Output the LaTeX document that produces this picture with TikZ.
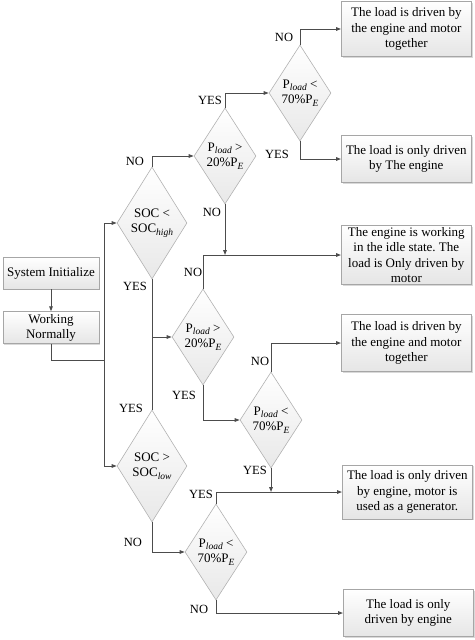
\documentclass[tikz,border=0pt]{standalone}
\usepackage{fontspec}
\setmainfont{Liberation Serif}
\usepackage{tikz}
\usetikzlibrary{arrows.meta,positioning,shapes.geometric,shadows}

\newcommand{\lowidx}[1]{\raisebox{-0.4ex}{\fontsize{9.5}{10}\selectfont\itshape #1}}

\begin{document}
\frenchspacing
\begin{tikzpicture}[x=1pt,y=-1pt,
  font=\fontsize{13}{15.3}\selectfont,
  stepbox/.style={draw=gray!70,rectangle,top color=white,bottom color=gray!20,align=center,line width=0.6pt,inner xsep=2pt,inner ysep=1pt,drop shadow={shadow xshift=1.3pt,shadow yshift=-1.3pt,fill=gray!50,opacity=0.6}},
  result/.style={stepbox,anchor=west,minimum width=130pt},
  decision/.style={diamond,aspect=0.6,draw=gray!60,top color=white,bottom color=gray!18,align=center,inner sep=0pt,line width=0.6pt,minimum width=62pt,minimum height=96pt},
  socdec/.style={decision,minimum width=70pt,minimum height=112pt},
  arr/.style={-{Triangle[length=5pt,width=3.6pt]},line width=1pt,draw=black!70},
  ln/.style={line width=1pt,draw=black!70},
  yn/.style={font=\fontsize{12.5}{14}\selectfont}
]
\useasboundingbox (0,0) rectangle (474,640);

% Start
\node[stepbox,minimum width=96pt,minimum height=32pt] (init) at (51,273) {System Initialize};
\node[stepbox,minimum width=96pt,minimum height=32pt,below=22pt of init] (work) {Working\\Normally};
\coordinate (split) at (104,360);

% Decisions
\node[socdec] (soch) at (152,223) {SOC <\\SOC\lowidx{high}};
\node[socdec] (socl) at (152,466) {SOC >\\SOC\lowidx{low}};
\node[decision] (pa) at (225,156) {P\lowidx{load} >\\20\%P\lowidx{E}};
\node[decision] (pb) at (300,93) {P\lowidx{load} <\\70\%P\lowidx{E}};
\node[decision] (pc) at (203,337) {P\lowidx{load} >\\20\%P\lowidx{E}};
\node[decision] (pd) at (271,420) {P\lowidx{load} <\\70\%P\lowidx{E}};
\node[decision] (pe) at (216,552) {P\lowidx{load} <\\70\%P\lowidx{E}};

% Results
\node[result,minimum height=55pt] (both1) at (341,29) {The load is driven by\\the engine and motor\\together};
\node[result,minimum height=47pt] (eng1) at (341,159) {The load is only driven\\by The engine};
\node[result,minimum height=59pt] (idle) at (341,255) {The engine is working\\in the idle state. The\\load is Only driven by\\motor};
\node[result,minimum height=57pt] (both2) at (341,343) {The load is driven by\\the engine and motor\\together};
\node[result,minimum height=54pt] (gen) at (342,492) {The load is only driven\\by engine, motor is\\used as a generator.};
\node[result,minimum height=47pt] (eng2) at (343,613) {The load is only\\driven by engine};

% Arrows
\draw[arr] (init) -- (work);
\draw[ln] (work.south) |- (split);
\draw[arr] (split) |- (soch.west);
\draw[arr] (split) |- (socl.west);
\draw[arr] (soch.north) |- (pa.west);
\draw[arr] (pa.north) |- (pb.west);
\draw[arr] (pb.north) |- (both1.west);
\draw[arr] (pb.south) |- (eng1.west);
\draw[arr] (pa.south) -- (pa.south |- idle.west);
\draw[arr] (pc.north) |- (idle.west);
\draw[ln] (soch.south) -- (socl.north);
\draw[arr] (soch.south |- pc.west) -- (pc.west);
\draw[arr] (pc.south) |- (pd.west);
\draw[arr] (pd.north) |- (both2.west);
\draw[arr] (pd.south) -- (pd.south |- gen.west);
\draw[arr] (pe.north) |- (gen.west);
\draw[arr] (socl.south) |- (pe.west);
\draw[arr] (pe.south) |- (eng2.west);

% YES / NO
\node[yn] (n1) at (135,161) {NO};
\node[yn] (y1) at (210,100) {YES};
\node[yn] (n2) at (284,37) {NO};
\node[yn] (y2) at (277,154) {YES};
\node[yn] (n3) at (212,212) {NO};
\node[yn] (n4) at (193,272) {NO};
\node[yn] (y3) at (135,286) {YES};
\node[yn] (y4) at (184,395) {YES};
\node[yn] (y5) at (131,408) {YES};
\node[yn] (n5) at (260,361) {NO};
\node[yn] (y6) at (255,470) {YES};
\node[yn] (y7) at (201,494) {YES};
\node[yn] (n6) at (133,542) {NO};
\node[yn] (n7) at (199,609) {NO};

\end{tikzpicture}
\end{document}
